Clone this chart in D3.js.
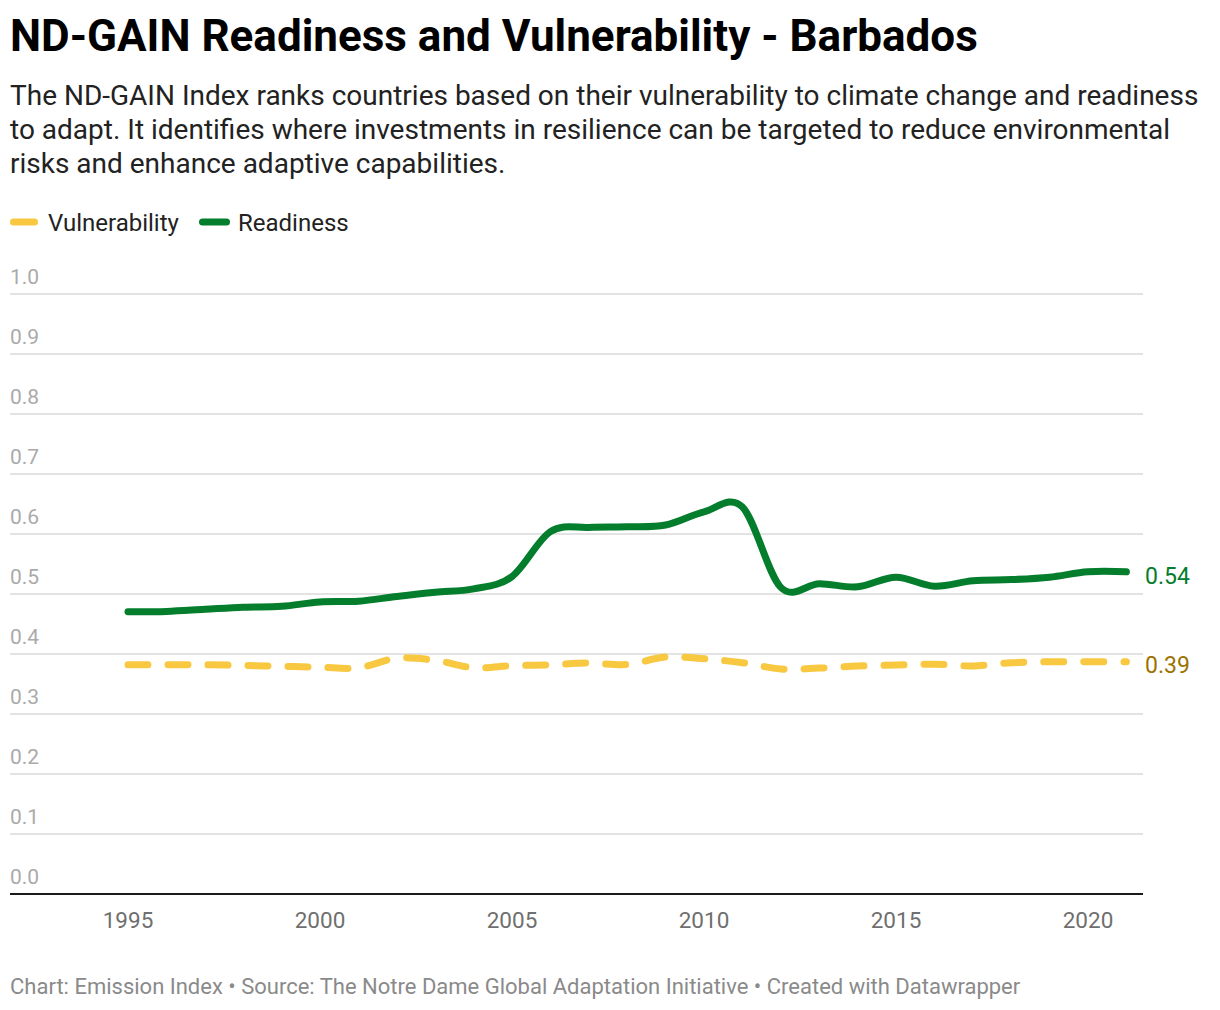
<!DOCTYPE html>
<html>
<head>
<meta charset="utf-8">
<script src="https://cdn.jsdelivr.net/npm/d3@7"></script>
<style>
  html, body { margin: 0; padding: 0; background: #fff; }
  svg { display: block; font-family: Roboto, "Noto Sans", sans-serif; }
</style>
</head>
<body>
<svg id="chart" width="1220" height="1010"></svg>
<script>
// ---- data ----
const years = [1995,1996,1997,1998,1999,2000,2001,2002,2003,2004,2005,2006,2007,2008,2009,2010,2011,2012,2013,2014,2015,2016,2017,2018,2019,2020,2021];
const readiness = [0.4705,0.471,0.4745,0.478,0.4795,0.4867,0.488,0.496,0.503,0.5085,0.529,0.604,0.611,0.612,0.615,0.637,0.645,0.511,0.517,0.512,0.528,0.513,0.522,0.524,0.528,0.537,0.537];
const vulnerability = [0.382,0.382,0.382,0.381,0.3795,0.378,0.377,0.393,0.3895,0.377,0.3805,0.382,0.385,0.3825,0.395,0.392,0.3855,0.375,0.3765,0.380,0.3815,0.383,0.380,0.3855,0.387,0.387,0.387];
const seriesNames = ["Vulnerability", "Readiness"];
const yTicks = [0,0.1,0.2,0.3,0.4,0.5,0.6,0.7,0.8,0.9,1.0];
const xTicks = [1995,2000,2005,2010,2015,2020];
const endLabels = ["0.39", "0.54"];
const title = "ND-GAIN Readiness and Vulnerability - Barbados";
const subtitleLines = [
  "The ND-GAIN Index ranks countries based on their vulnerability to climate change and readiness",
  "to adapt. It identifies where investments in resilience can be targeted to reduce environmental",
  "risks and enhance adaptive capabilities."
];
const footer = "Chart: Emission Index \u2022 Source: The Notre Dame Global Adaptation Initiative \u2022 Created with Datawrapper";

// ---- styles ----
const GREEN = "#047d2c";
const YELLOW = "#f8c840";
const GOLD = "#9c7300";

const svg = d3.select("#chart");

// header
svg.append("text").attr("x", 10).attr("y", 51)
  .attr("font-size", 44).attr("font-weight", 700).attr("fill", "#000")
  .text(title);

svg.append("g").selectAll("text").data(subtitleLines).join("text")
  .attr("x", 10).attr("y", (d, i) => 105 + i * 34)
  .attr("font-size", 28).attr("fill", "#222")
  .text(d => d);

// legend
const legend = svg.append("g");
const legendItems = [
  {name: seriesNames[0], color: YELLOW, x0: 13.5, x1: 34.5, tx: 48},
  {name: seriesNames[1], color: GREEN, x0: 202.5, x1: 226.5, tx: 238}
];
legendItems.forEach(it => {
  legend.append("line").attr("x1", it.x0).attr("x2", it.x1).attr("y1", 222).attr("y2", 222)
    .attr("stroke", it.color).attr("stroke-width", 7).attr("stroke-linecap", "round");
  legend.append("text").attr("x", it.tx).attr("y", 230.5).attr("font-size", 24).attr("fill", "#222").text(it.name);
});

// scales
const x = d3.scaleLinear().domain([1995, 2021]).range([128, 1126.4]);
const y = d3.scaleLinear().domain([0, 1]).range([894, 294]);
const plotLeft = 10, plotRight = 1143;

// gridlines
const grid = svg.append("g");
grid.selectAll("line").data(yTicks.filter(t => t > 0)).join("line")
  .attr("x1", plotLeft).attr("x2", plotRight)
  .attr("y1", d => y(d)).attr("y2", d => y(d))
  .attr("stroke", "#e3e3e3").attr("stroke-width", 2);

grid.selectAll("text").data(yTicks).join("text")
  .attr("x", plotLeft).attr("y", d => y(d) - 10)
  .attr("font-size", 21).attr("fill", "#aaaaaa")
  .text(d => d3.format(".1f")(d));

// x axis baseline
svg.append("line").attr("x1", plotLeft).attr("x2", plotRight)
  .attr("y1", y(0)).attr("y2", y(0)).attr("stroke", "#1a1a1a").attr("stroke-width", 2);

svg.append("g").selectAll("text").data(xTicks).join("text")
  .attr("x", d => x(d)).attr("y", 927.5).attr("text-anchor", "middle")
  .attr("font-size", 22.5).attr("fill", "#6f6f6f")
  .text(d => d);

// lines
const line = d3.line().x(d => x(d[0])).y(d => y(d[1])).curve(d3.curveCardinal.tension(0));
const vulnData = years.map((yr, i) => [yr, vulnerability[i]]);
const readData = years.map((yr, i) => [yr, readiness[i]]);

svg.append("path").datum(vulnData).attr("d", line)
  .attr("fill", "none").attr("stroke", YELLOW).attr("stroke-width", 7)
  .attr("stroke-linecap", "round").attr("stroke-linejoin", "round")
  .attr("stroke-dasharray", "20 20");

svg.append("path").datum(readData).attr("d", line)
  .attr("fill", "none").attr("stroke", GREEN).attr("stroke-width", 7)
  .attr("stroke-linecap", "round").attr("stroke-linejoin", "round");

// end labels
const lastIdx = years.length - 1;
svg.append("text").attr("x", 1145).attr("y", y(vulnerability[lastIdx]) + 11)
  .attr("font-size", 23).attr("fill", GOLD).text(endLabels[0]);
svg.append("text").attr("x", 1145).attr("y", y(readiness[lastIdx]) + 12)
  .attr("font-size", 23).attr("fill", GREEN).text(endLabels[1]);

// footer
svg.append("text").attr("x", 10).attr("y", 994)
  .attr("font-size", 22).attr("fill", "#8a8a8a").text(footer);
</script>
</body>
</html>
